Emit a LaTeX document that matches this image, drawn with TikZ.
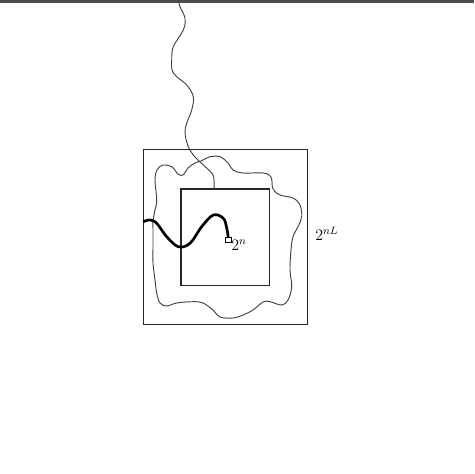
\documentclass[tikz,border=0pt]{standalone}
\begin{document}
\begin{tikzpicture}[x=0.75pt,y=-0.75pt,
  boxline/.style={draw=black!85,line width=1pt},
  thinpath/.style={draw=black!75,line width=0.7pt},
  thickpath/.style={draw=black,line width=2pt},
  lbl/.style={font=\large,inner sep=0pt,anchor=west}]
\useasboundingbox (0,0) rectangle (474,474);
\fill[black!70] (0,0) rectangle (474,2.6);
% squares
\coordinate (oa) at (143.3,149.3); \coordinate (ob) at (307.3,324.3);
\coordinate (ia) at (181,189); \coordinate (ib) at (269.3,285.7);
\draw[boxline] (oa) rectangle (ob);
\draw[boxline] (ia) rectangle (ib);
% small square
\node[draw,line width=0.8pt,minimum size=4.2pt,inner sep=0pt] (sq) at (228.7,240) {};
\node[lbl] (ln) at (231,245) {$2^n$};
\node[lbl] (lnl) at (315,234) {$2^{nL}$};
% path from the top
\coordinate (top) at (178.3,0);
\coordinate (hit) at (214,189);
\draw[thinpath] plot[smooth,tension=0.6] coordinates {(178.3,0) (180,6.7) (185,18.3) (183.3,30) (173.3,46.7) (171.7,60) (172,70) (176.7,76.7) (186.7,85) (193.3,96.7) (191.7,110) (186.7,123.3) (185,133.3) (188.3,146.7) (193.3,155) (199,161) (211.7,173) (214,180) (214,189)};
% loop
\draw[thinpath] plot[smooth cycle,tension=0.6] coordinates {(155,210) (156.7,200) (155,180) (157,170) (163,165) (171.7,166.7) (178,174) (183,175) (188,168) (195,163) (201.7,160.7) (210,156.7) (220,156.7) (228,163) (233,170) (243,173) (263,173) (271,177) (273,189) (280,195) (293,198) (300,205) (301.7,216.7) (298,226.7) (293,236.7) (291,250) (290,270) (291.7,286.7) (288,300) (281.7,305) (270,301.7) (263,302) (253,310) (243,315) (233,318) (220,317) (213,310) (203,303) (193,301.7) (176.7,303) (166.7,306) (160,303) (156.7,293) (155,280) (153,263) (153,246.7) (153,230) (153,221)};
% thick path
\draw[thickpath] plot[smooth,tension=0.6] coordinates {(143.3,221.7) (150,220) (156.7,223.3) (166.7,236.7) (178.3,246.7) (190,243.3) (201.7,226.7) (213.3,215) (223.3,218.3) (226.7,228) (228.3,237.5)};
\end{tikzpicture}
\end{document}
